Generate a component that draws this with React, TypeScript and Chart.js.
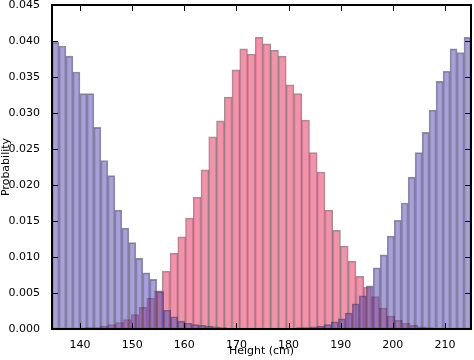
import { useEffect, useRef } from "react";
import { Chart, registerables } from "chart.js";

Chart.register(...registerables);

// Axis range (cm)
const xMin = 134.63;
const xMax = 215.0;

// Histogram bins
const purpleBinStart = 134.63;
const purpleBinWidth = 1.3395;
const pinkBinStart = 137.95;
const pinkBinWidth = 1.486;

// Probability per bin
const pinkValues = [
  0.0001, 0.0001, 0.0002, 0.0002, 0.0004, 0.0006, 0.0009, 0.0013, 0.002, 0.003,
  0.0043, 0.0053, 0.008, 0.0105, 0.0128, 0.0154, 0.0183, 0.0221, 0.0267, 0.0289,
  0.0322, 0.036, 0.0389, 0.0382, 0.0405, 0.0396, 0.0387, 0.0379, 0.0339, 0.0327,
  0.029, 0.0245, 0.0218, 0.0165, 0.0137, 0.0115, 0.0094, 0.0073, 0.0058, 0.0045,
  0.0029, 0.0018, 0.0012, 0.0008, 0.0005, 0.0003, 0.0002, 0.0001, 0.0001, 0.0001,
];

const purpleValues = [
  0.0398, 0.0393, 0.0379, 0.0357, 0.0327, 0.0327, 0.028, 0.0234, 0.0213, 0.0165,
  0.014, 0.012, 0.0098, 0.0078, 0.0069, 0.0052, 0.0026, 0.0017, 0.0011, 0.0008,
  0.0006, 0.0005, 0.0004, 0.0003, 0.0002, 0.0001, 0.0001, 0.0001, 0, 0,
  0, 0, 0, 0.0001, 0.0001, 0.0002, 0.0002, 0.0003, 0.0004, 0.0006,
  0.001, 0.0014, 0.0022, 0.0035, 0.0046, 0.006, 0.0085, 0.0103, 0.0129, 0.0151,
  0.0175, 0.0211, 0.0245, 0.0273, 0.0304, 0.0344, 0.0358, 0.0389, 0.0384, 0.0405,
];

const xTickValues = [140, 150, 160, 170, 180, 190, 200, 210];
const yTickValues = [0, 0.005, 0.01, 0.015, 0.02, 0.025, 0.03, 0.035, 0.04, 0.045];

const xTitle = "Height (cm)";
const yTitle = "Probability";

const FONT = "'DejaVu Sans', 'Liberation Sans', sans-serif";

function drawFrame(chart: any) {
  const ctx = chart.ctx;
  const a = chart.chartArea;
  const sx = chart.scales.x;
  const sy = chart.scales.y;
  const L = Math.round(a.left);
  const R = Math.round(a.right);
  const T = Math.round(a.top);
  const B = Math.round(a.bottom);
  const TL = 5;
  ctx.save();
  ctx.globalAlpha = 1;
  ctx.fillStyle = "#000000";
  // box (2px)
  ctx.fillRect(L - 1, T - 1, R - L + 2, 2);
  ctx.fillRect(L - 1, B - 1, R - L + 2, 2);
  ctx.fillRect(L - 1, T - 1, 2, B - T + 2);
  ctx.fillRect(R - 1, T - 1, 2, B - T + 2);
  // inward ticks on all four sides
  for (let i = 0; i < xTickValues.length; i++) {
    const px = Math.round(sx.getPixelForValue(xTickValues[i]));
    ctx.fillRect(px, B - 1 - TL, 1, TL);
    ctx.fillRect(px, T + 1, 1, TL);
  }
  for (let i = 0; i < yTickValues.length; i++) {
    const py = Math.round(sy.getPixelForValue(yTickValues[i]));
    ctx.fillRect(L + 1, py, TL, 1);
    ctx.fillRect(R - 1 - TL, py, TL, 1);
  }
  ctx.restore();
}

const framePlugin = {
  id: "axesFrame",
  afterDraw(chart: any) {
    try {
      drawFrame(chart);
    } catch (e) {
      /* ignore */
    }
  },
};

export default function App() {
  const ref = useRef<HTMLCanvasElement | null>(null);

  useEffect(() => {
    document.body.style.margin = "0";
    document.body.style.overflow = "hidden";
    const canvas = ref.current;
    if (!canvas) return;

    const pinkData = pinkValues.map((v, i) => ({
      x: pinkBinStart + (i + 0.5) * pinkBinWidth,
      y: v,
    }));
    const purpleData = purpleValues.map((v, i) => ({
      x: purpleBinStart + (i + 0.5) * purpleBinWidth,
      y: v,
    }));

    const chart = new Chart(canvas, {
      type: "bar",
      data: {
        datasets: [
          {
            label: "purple",
            data: purpleData,
            xAxisID: "x2",
            backgroundColor: "rgba(97, 82, 184, 0.55)",
            borderColor: "rgba(40, 40, 60, 0.5)",
            borderWidth: 1,
            borderSkipped: false,
            barPercentage: 1,
            categoryPercentage: 1,
            grouped: false,
          } as any,
          {
            label: "pink",
            data: pinkData,
            xAxisID: "x",
            backgroundColor: "rgba(240, 110, 140, 0.75)",
            borderColor: "rgba(60, 40, 50, 0.5)",
            borderWidth: 1,
            borderSkipped: false,
            barPercentage: 1,
            categoryPercentage: 1,
            grouped: false,
          } as any,
        ],
      },
      options: {
        animation: false,
        responsive: false,
        devicePixelRatio: 1,
        layout: { padding: { top: 5, right: 3, left: 0, bottom: 0 } },
        plugins: {
          legend: { display: false },
          tooltip: { enabled: false },
        },
        scales: {
          x: {
            type: "linear",
            position: "bottom",
            min: xMin,
            max: xMax,
            offset: false,
            grid: { display: false },
            border: { display: false },
            ticks: {
              color: "#000",
              font: { family: FONT, size: 11 },
              padding: 2,
              maxRotation: 0,
              autoSkip: false,
              callback: (v: any) => String(Math.round(Number(v))),
            },
            afterBuildTicks: (scale: any) => {
              scale.ticks = xTickValues.map((v) => ({ value: v }));
            },
            afterFit: (scale: any) => {
              scale.height = 31;
              scale.paddingLeft = 0;
              scale.paddingRight = 0;
            },
            title: {
              display: true,
              text: xTitle,
              color: "#000",
              font: { family: FONT, size: 11 },
              padding: { top: 0, bottom: 2 },
            },
          },
          x2: {
            type: "linear",
            position: "bottom",
            min: xMin,
            max: xMax,
            offset: false,
            display: false,
          },
          y: {
            type: "linear",
            min: 0,
            max: 0.045,
            grid: { display: false },
            border: { display: false },
            ticks: {
              color: "#000",
              font: { family: FONT, size: 11 },
              padding: 4,
              autoSkip: false,
              callback: (v: any) => Number(v).toFixed(3),
            },
            afterBuildTicks: (scale: any) => {
              scale.ticks = yTickValues.map((v) => ({ value: v }));
            },
            afterFit: (scale: any) => {
              scale.width = 52;
              scale.paddingTop = 0;
              scale.paddingBottom = 0;
            },
            title: {
              display: true,
              text: yTitle,
              color: "#000",
              font: { family: FONT, size: 11 },
              padding: { top: 0, bottom: 0 },
            },
          },
        },
      },
      plugins: [framePlugin],
    });

    return () => chart.destroy();
  }, []);

  return (
    <div style={{ width: 474, height: 360, background: "#fff" }}>
      <canvas ref={ref} width={474} height={360} style={{ display: "block" }} />
    </div>
  );
}
